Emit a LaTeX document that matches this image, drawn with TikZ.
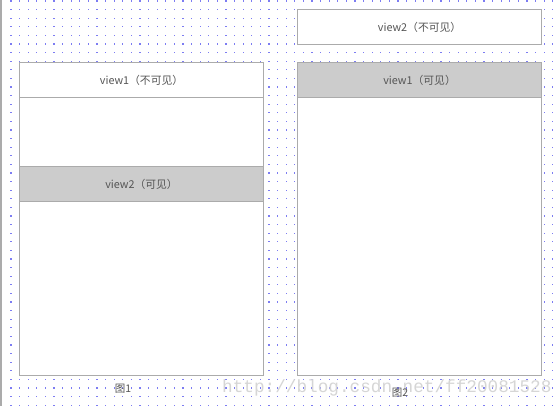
\documentclass[tikz,border=0pt]{standalone}
\usepackage{fontspec}
\setmainfont{Noto Sans CJK SC}
\newfontfamily\wmfont{Liberation Mono}
\definecolor{dotc}{HTML}{7C7CF2}
\definecolor{edgec}{HTML}{ABABAB}
\definecolor{bandc}{HTML}{CCCCCC}
\definecolor{txtc}{HTML}{555555}
\definecolor{wmc}{HTML}{D6D6D6}
\begin{document}
\begin{tikzpicture}[x=1pt,y=-1pt,
  panel/.style={draw=edgec,line width=1.3pt,fill=white,anchor=north west,inner sep=0pt,minimum width=244pt},
  band/.style={draw=edgec,line width=1.1pt,anchor=north west,inner sep=0pt,minimum width=244pt,minimum height=35pt,text=txtc,font=\fontsize{10.8pt}{12pt}\selectfont},
  caption/.style={text=txtc,font=\fontsize{10.5pt}{12pt}\selectfont,inner sep=0pt}]
\useasboundingbox (0,0) rectangle (556,406);
\fill[white] (0,0) rectangle (556,406);
% dot grid
\foreach \i in {0,...,63}{
  \foreach \j in {0,...,47}{
    \fill[dotc] ({11+8.6*\i-0.55},{1+8.6*\j-0.55}) rectangle +(1.1,1.1);
  }
}
\draw[edgec,line width=1.5pt] (1,0) -- (1,406);
% watermark
\node[text=wmc,font=\wmfont\fontsize{17.7pt}{20pt}\selectfont,anchor=base west,inner sep=0pt] (wm) at (222,392) {http://blog.csdn.net/ff20081528};
% figure 1
\node[panel,minimum height=313pt] (p1) at (19,62) {};
\node[band,fill=white] (p1h) at (19,62) {view1（不可见）};
\node[band,fill=bandc] (p1v) at (19,166) {view2（可见）};
\node[caption] (c1) at (123,389) {图1};
% figure 2
\node[band,fill=white] (p2t) at (297,9) {view2（不可见）};
\node[panel,minimum height=313pt] (p2) at (297,62) {};
\node[band,fill=bandc] (p2h) at (297,62) {view1（可见）};
\node[caption] (c2) at (400,393) {图2};
\end{tikzpicture}
\end{document}
